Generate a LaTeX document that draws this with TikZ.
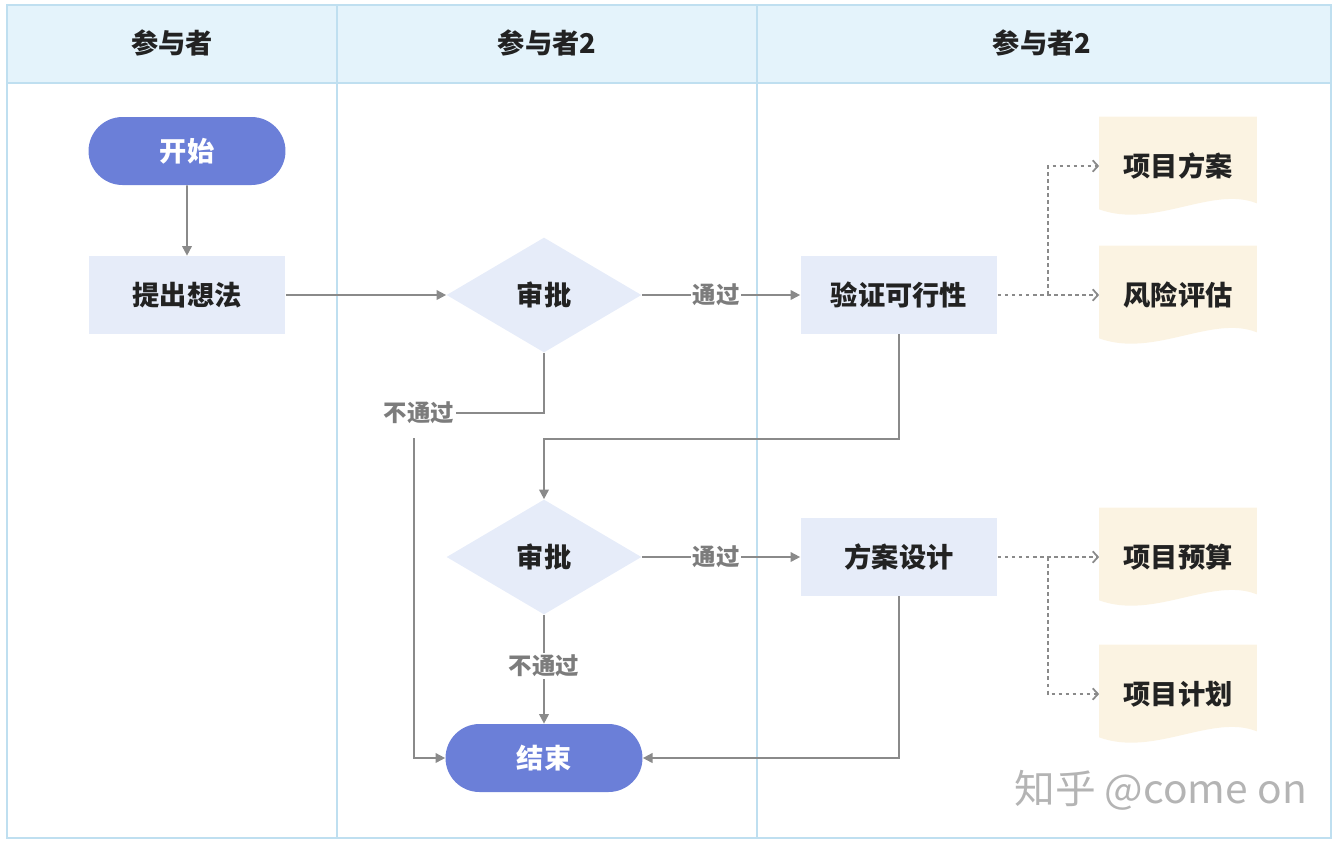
\documentclass[tikz,border=0pt]{standalone}
\usepackage{fontspec}
\setmainfont{Noto Sans CJK SC}
\usetikzlibrary{shapes.geometric,shapes.misc,arrows.meta,calc,backgrounds}
\definecolor{hdrfill}{HTML}{E4F3FB}
\definecolor{lanebd}{HTML}{BFDFF0}
\definecolor{pillc}{HTML}{6B7FD8}
\definecolor{boxc}{HTML}{E6ECF9}
\definecolor{docc}{HTML}{FBF3E2}
\definecolor{linec}{HTML}{8A8A8A}
\definecolor{lblc}{HTML}{7C7C7C}
\definecolor{txtc}{HTML}{222222}
\definecolor{wmc}{HTML}{B4B4B4}
\tikzset{
  hdr/.style={font=\fontsize{15.5}{18}\selectfont\bfseries, text=txtc},
  pill/.style={rounded rectangle, fill=pillc, text=white, minimum width=3.94cm, minimum height=1.36cm, font=\fontsize{15.5}{18}\selectfont\bfseries, inner sep=0pt},
  procbox/.style={rectangle, fill=boxc, text=txtc, minimum width=3.94cm, minimum height=1.56cm, font=\fontsize{15.5}{18}\selectfont\bfseries, inner sep=0pt},
  decide/.style={diamond, fill=boxc, text=txtc, minimum width=3.9cm, minimum height=2.3cm, font=\fontsize{15.5}{18}\selectfont\bfseries, inner sep=0pt},
  docnode/.style={rectangle, text=txtc, minimum width=3.14cm, minimum height=1.96cm, font=\fontsize{15.5}{18}\selectfont\bfseries, inner sep=0pt},
  lbl/.style={fill=white, text=lblc, font=\fontsize{13.3}{15}\selectfont\bfseries, inner sep=1pt},
  arr/.style={draw=linec, line width=1pt, -{Triangle[length=5.5pt,width=5.5pt]}},
  dotarr/.style={draw=linec, line width=1pt, dash pattern=on 2pt off 2pt, -{Straight Barb[length=3pt,width=6.5pt]}},
}
\newcommand\docbg[1]{%
  \fill[docc] (#1.north west) -- (#1.north east) -- ($(#1.south east)+(0,-12)$)
    .. controls ($(#1.south east)+(-45,-30)$) and ($(#1.south west)+(55,14)$) .. ($(#1.south west)+(0,-6)$) -- cycle;}
\begin{document}
\begin{tikzpicture}[x=0.02cm,y=-0.02cm]
\useasboundingbox (0,0) rectangle (1338,843);
% lanes
\fill[hdrfill] (7,5) rectangle (1331,83);
\draw[lanebd, line width=1pt] (7,5) rectangle (1331,838);
\draw[lanebd, line width=1pt] (7,83) -- (1331,83);
\draw[lanebd, line width=1pt] (337,5) -- (337,838);
\draw[lanebd, line width=1pt] (757,5) -- (757,838);
\node[hdr] (h1) at (172,43) {参与者};
\node[hdr] (h2) at (547,43) {参与者2};
\node[hdr] (h3) at (1042,43) {参与者2};
% nodes
\node[pill] (start) at (187,151) {开始};
\node[procbox] (idea) at (187,295) {提出想法};
\node[decide] (d1) at (544,295) {审批};
\node[procbox] (verify) at (899,295) {验证可行性};
\node[decide] (d2) at (544,557) {审批};
\node[procbox] (design) at (899,557) {方案设计};
\node[pill] (end) at (544,758) {结束};
\node[docnode] (doc1) at (1178,166) {项目方案};
\node[docnode] (doc2) at (1178,295) {风险评估};
\node[docnode] (doc3) at (1178,557) {项目预算};
\node[docnode] (doc4) at (1178,694) {项目计划};
\begin{scope}[on background layer]
\docbg{doc1}\docbg{doc2}\docbg{doc3}\docbg{doc4}
\end{scope}
% connectors
\draw[arr] (start) -- (idea);
\draw[arr] (idea) -- (d1);
\draw[arr] (d1) -- node[lbl, pos=0.47] (ok1) {通过} (verify);
\node[lbl, fill=none] (no1) at (419,413) {不通过};
\draw[draw=linec, line width=1pt] (d1.south) |- (no1.east);
\draw[arr] (no1.south) ++(-5,12) coordinate (n1b) (n1b) |- (end.west);
\draw[arr] (verify.south) -- ++(0,105) coordinate (vb) -| (d2.north);
\draw[arr] (d2) -- node[lbl, pos=0.47] (ok2) {通过} (design);
\draw[arr] (d2.south) -- node[lbl, pos=0.47] (no2) {不通过} (end.north);
\draw[arr] (design.south) |- (end.east);
\coordinate (j1) at (1048,295);
\coordinate (j2) at (1048,557);
\draw[dotarr] (verify.east) -- (doc2.west);
\draw[dotarr] (j1) |- (doc1.west);
\draw[dotarr] (design.east) -- (doc3.west);
\draw[dotarr] (j2) |- (doc4.west);
% watermark
\node[text=wmc, font=\fontsize{22.5}{26}\selectfont, anchor=west, xscale=1.03] (wm) at (1008,790) {知乎 @come on};
\end{tikzpicture}
\end{document}
